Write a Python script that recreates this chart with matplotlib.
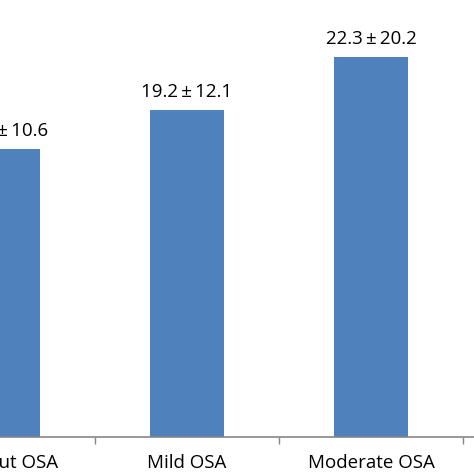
import matplotlib.pyplot as plt

categories = ["Without OSA", "Mild OSA", "Moderate OSA"]
means = [16.9, 19.2, 22.3]
sds = [10.6, 12.1, 20.2]

plt.rcParams['font.family'] = ['Open Sans', 'DejaVu Sans']

fig = plt.figure(figsize=(4.74, 4.74), dpi=100)
ax = fig.add_axes([0, 0.078, 1, 0.922])

x = list(range(len(categories)))
bars = ax.bar(x, means, width=0.4, color='#4F81BD')

for xi, m, s in zip(x, means, sds):
    ax.annotate(f"{m}\u2009\u00b1\u2009{s}", (xi, m), xytext=(0, 6.5), textcoords='offset points',
                ha='center', va='bottom', fontsize=13.5, color='black')

ax.set_xlim(-0.016, 2.56)
ax.set_ylim(0, 25.65)

ax.set_xticks([0.5, 1.5, 2.5])
ax.set_xticklabels([])
ax.set_xticks(x, minor=True)
ax.set_xticklabels(categories, minor=True, fontsize=13.5)
ax.tick_params(axis='x', which='major', direction='out', length=5, color='#868686', width=1)
ax.tick_params(axis='x', which='minor', length=0, pad=12)
ax.set_yticks([])

for side in ['top', 'right', 'left']:
    ax.spines[side].set_visible(False)
ax.spines['bottom'].set_color('#868686')
ax.spines['bottom'].set_linewidth(1.2)

fig.savefig('out.png', dpi=100)
